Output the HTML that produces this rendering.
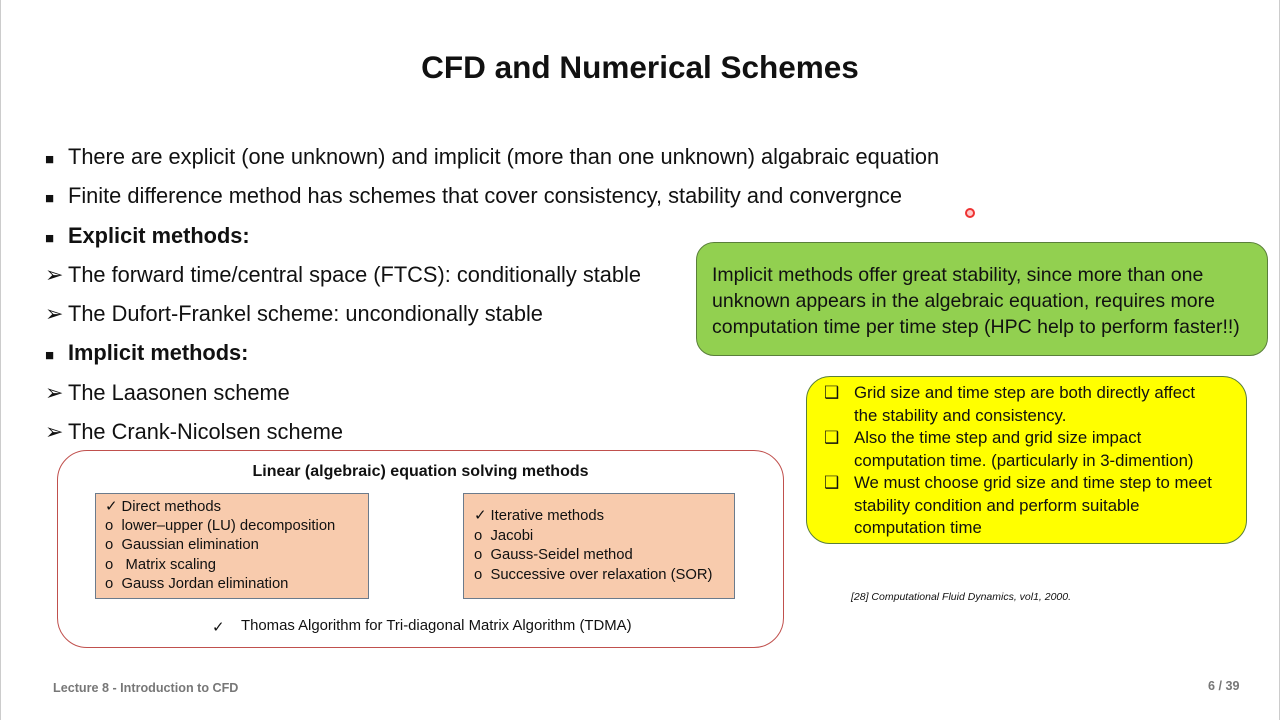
<!DOCTYPE html>
<html><head><meta charset="utf-8"><style>
body{margin:0;width:1280px;height:720px;background:#fff;position:relative;overflow:hidden;font-family:"Liberation Sans",sans-serif;color:#111}
.a{position:absolute;white-space:nowrap}
.b{font-size:21.8px}
.box{position:absolute;box-sizing:border-box}
.m{display:inline-block;width:23px}
</style></head><body>
<div style="position:absolute;left:0;top:0;width:1px;height:720px;background:#ccc"></div>
<div style="position:absolute;right:0;top:0;width:1px;height:720px;background:#ccc"></div>
<div class="a" style="left:0;width:1280px;text-align:center;top:49px;font-size:31.5px;font-weight:bold">CFD and Numerical Schemes</div>

<div class="a b" style="left:45px;top:144px"><span class="m" style="font-size:15px">■</span>There are explicit (one unknown) and implicit (more than one unknown) algabraic equation</div>
<div class="a b" style="left:45px;top:183px"><span class="m" style="font-size:15px">■</span>Finite difference method has schemes that cover consistency, stability and convergnce</div>
<div class="a b" style="left:45px;top:223px;font-weight:bold"><span class="m" style="font-size:15px">■</span>Explicit methods:</div>
<div class="a b" style="left:45px;top:262px"><span class="m">➢</span>The forward time/central space (FTCS): conditionally stable</div>
<div class="a b" style="left:45px;top:301px"><span class="m">➢</span>The Dufort-Frankel scheme: uncondionally stable</div>
<div class="a b" style="left:45px;top:340px;font-weight:bold"><span class="m" style="font-size:15px">■</span>Implicit methods:</div>
<div class="a b" style="left:45px;top:380px"><span class="m">➢</span>The Laasonen scheme</div>
<div class="a b" style="left:45px;top:419px"><span class="m">➢</span>The Crank-Nicolsen scheme</div>

<div style="position:absolute;left:965px;top:208px;width:6px;height:6px;border:2px solid #e33;border-radius:50%;background:#fcc"></div>

<div class="box" style="left:696px;top:242px;width:572px;height:114px;background:#92d050;border:1.5px solid #5a7f3a;border-radius:18px"></div>
<div class="a" style="left:712px;top:262px;font-size:19.5px;line-height:26px">Implicit methods offer great stability, since more than one<br>unknown appears in the algebraic equation, requires more<br>computation time per time step (HPC help to perform faster!!)</div>

<div class="box" style="left:806px;top:376px;width:441px;height:168px;background:#ffff00;border:1.5px solid #5a7f3a;border-radius:24px"></div>
<div class="a" style="left:824px;top:382px;font-size:16.8px;line-height:22.5px">❑<span style="position:absolute;left:30px">Grid size and time step are both directly affect<br>the stability and consistency.</span><br><br>❑<span style="position:absolute;left:30px;top:45px">Also the time step and grid size impact<br>computation time. (particularly in 3-dimention)</span><br><br>❑<span style="position:absolute;left:30px;top:90px">We must choose grid size and time step to meet<br>stability condition and perform suitable<br>computation time</span></div>

<div class="a" style="left:851px;top:591px;font-size:10.5px;font-style:italic">[28] Computational Fluid Dynamics, vol1, 2000.</div>

<div class="box" style="left:57px;top:450px;width:727px;height:198px;border:1.5px solid #c0504d;border-radius:30px"></div>
<div class="a" style="left:57px;width:727px;text-align:center;top:463px;font-size:16px;font-weight:bold">Linear (algebraic) equation solving methods</div>
<div class="box" style="left:95px;top:493px;width:274px;height:106px;background:#f8cbad;border:1.5px solid #6b7b8c"></div>
<div class="a" style="left:105px;top:498px;font-size:14.8px;line-height:19.2px">✓&nbsp;Direct methods<br>o&nbsp;&nbsp;lower–upper (LU) decomposition<br>o&nbsp;&nbsp;Gaussian elimination<br>o&nbsp;&nbsp;&nbsp;Matrix scaling<br>o&nbsp;&nbsp;Gauss Jordan elimination</div>
<div class="box" style="left:463px;top:493px;width:272px;height:106px;background:#f8cbad;border:1.5px solid #6b7b8c"></div>
<div class="a" style="left:474px;top:507px;font-size:14.8px;line-height:19.5px">✓&nbsp;Iterative methods<br>o&nbsp;&nbsp;Jacobi<br>o&nbsp;&nbsp;Gauss-Seidel method<br>o&nbsp;&nbsp;Successive over relaxation (SOR)</div>
<div class="a" style="left:212px;top:618px;font-size:14.9px">✓<span style="position:absolute;left:29px">Thomas Algorithm for Tri-diagonal Matrix Algorithm (TDMA)</span></div>

<div class="a" style="left:53px;top:681px;font-size:12.6px;font-weight:bold;color:#777">Lecture 8 - Introduction to CFD</div>
<div class="a" style="left:1208px;top:679px;font-size:12.6px;font-weight:bold;color:#777">6 / 39</div>
</body></html>
